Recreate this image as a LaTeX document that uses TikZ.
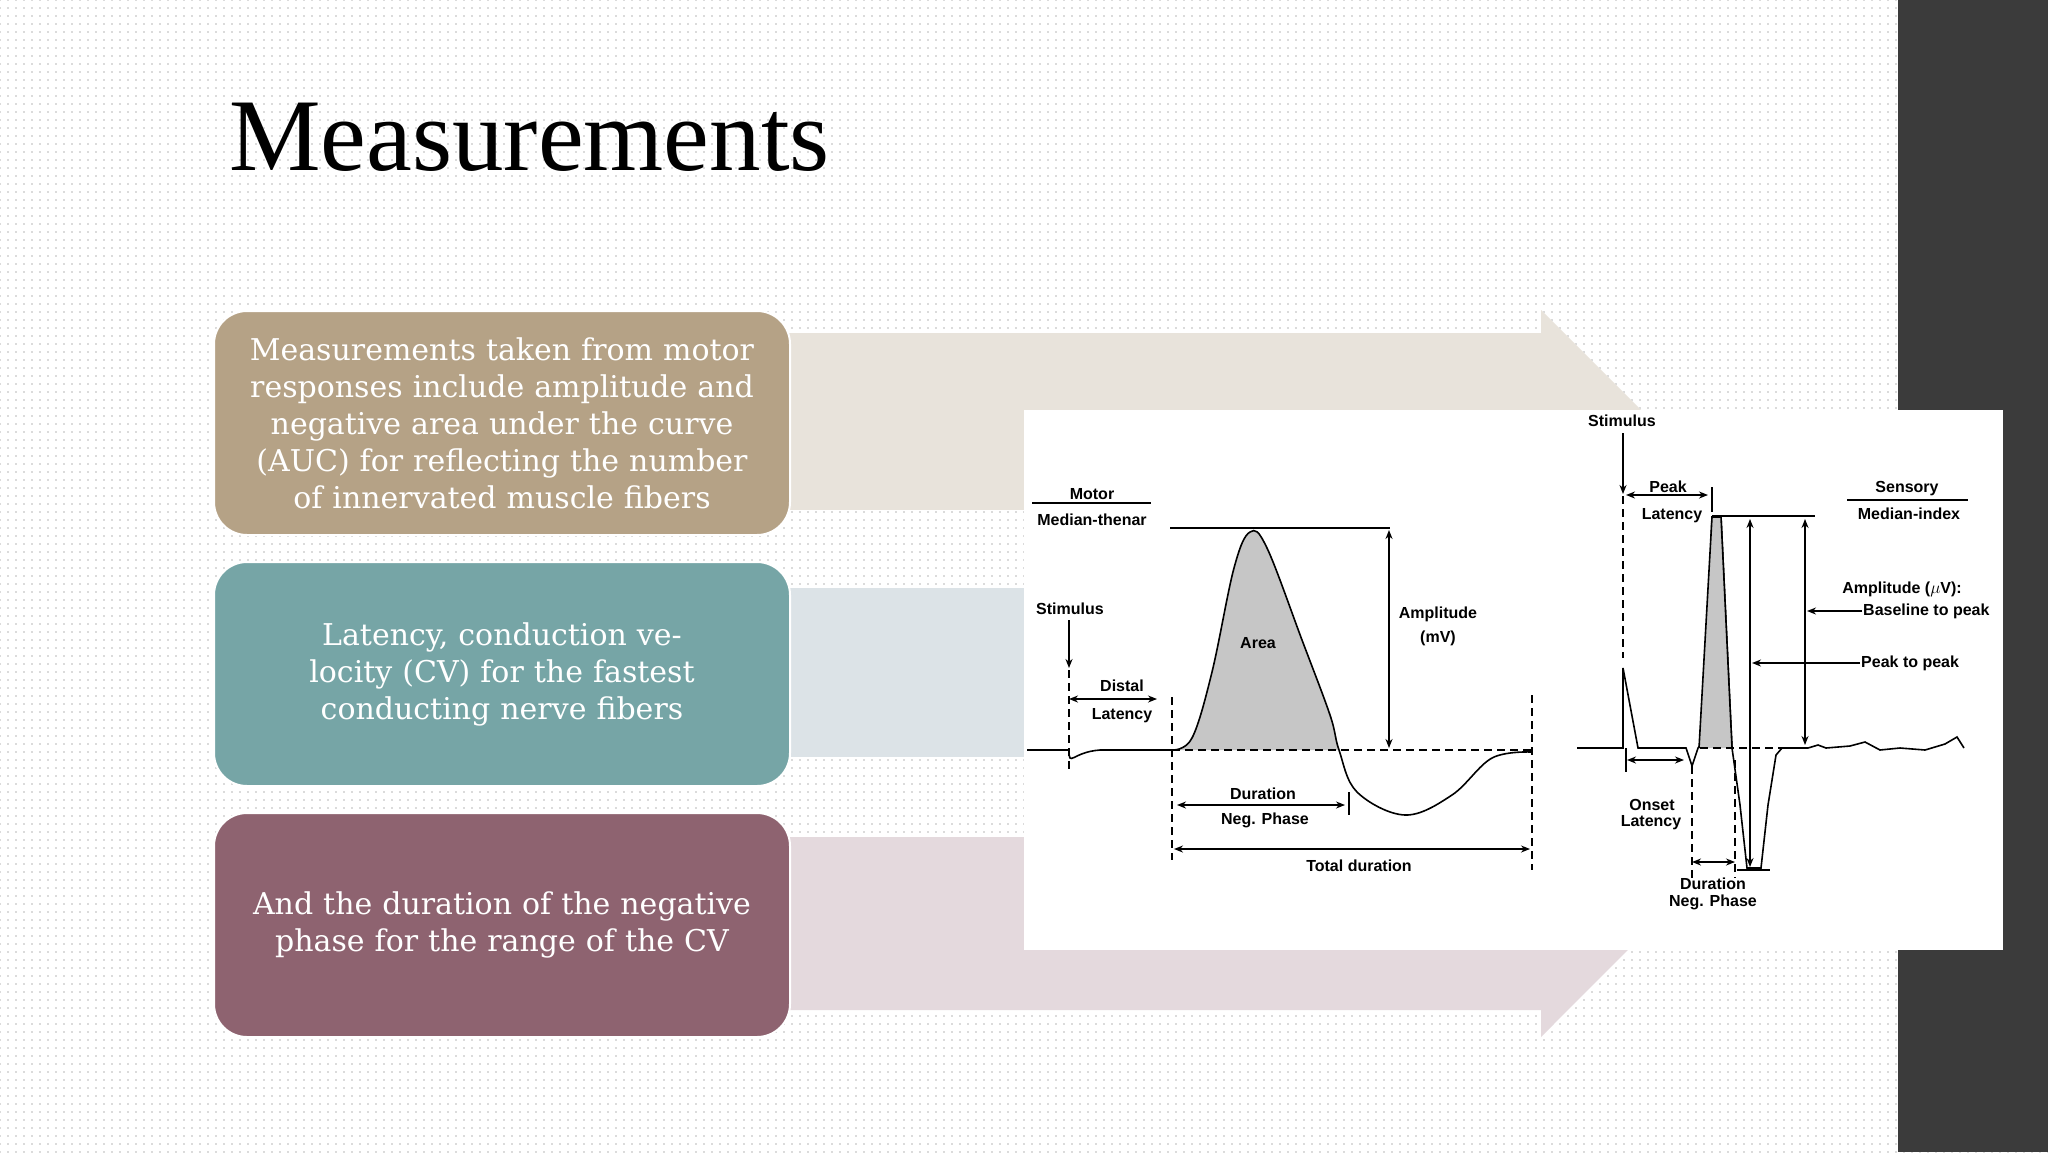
\documentclass[tikz,border=0pt]{standalone}
\usepackage{fontspec}
\setmainfont{DejaVu Serif}
\newfontfamily\titlefont{Liberation Serif}
\newfontfamily\plotfont{Liberation Sans}
\usetikzlibrary{patterns.meta,arrows.meta}
\definecolor{tanb}{HTML}{B5A286}
\definecolor{tealb}{HTML}{76A5A6}
\definecolor{mauveb}{HTML}{8E6370}
\definecolor{band1}{HTML}{E8E3DB}
\definecolor{band2}{HTML}{DCE3E7}
\definecolor{band3}{HTML}{E4D9DD}
\definecolor{darkband}{HTML}{3B3B3B}
\tikzset{
 box/.style={rounded corners=33pt, draw=white, line width=2pt, minimum width=576pt, minimum height=224pt, text width=530pt, align=center, text=white, font=\fontsize{30}{37}\selectfont, anchor=north west},
 lab/.style={font=\plotfont\bfseries\fontsize{16}{19}\selectfont, inner sep=1pt},
 ln/.style={line width=1.6pt},
 dsh/.style={line width=1.6pt, dash pattern=on 8pt off 5pt},
 arr/.style={line width=1.6pt, -{Stealth[length=9pt,width=7pt]}},
 darr/.style={line width=1.6pt, {Stealth[length=9pt,width=7pt]}-{Stealth[length=9pt,width=7pt]}},
}
\begin{document}
\begin{tikzpicture}[x=1pt,y=-1pt]
\useasboundingbox (0,0) rectangle (2048,1152);
\fill[white] (0,0) rectangle (2048,1152);
\fill[pattern={Dots[distance=8pt,radius=0.9pt]}, pattern color=black!28] (0,0) rectangle (2048,1152);
\fill[darkband] (1898,0) rectangle (2048,1152);
% title
\node[anchor=base west, inner sep=0, font=\titlefont\fontsize{103}{110}\selectfont] (title) at (229,170) {Measurements};
% arrow bands
\begin{scope}
\clip (0,0) rectangle (2048,509);
\fill[band1] (789,333) -- (1541,333) -- (1541,310) -- (1904,673) -- (1541,1037) -- (1541,1010) -- (789,1010) -- cycle;
\end{scope}
\fill[band2] (789,588) rectangle (1541,757);
\begin{scope}
\clip (0,837) rectangle (2048,1152);
\fill[band3] (789,333) -- (1541,333) -- (1541,310) -- (1904,673) -- (1541,1037) -- (1541,1010) -- (789,1010) -- cycle;
\end{scope}
% boxes
\node[box, fill=tanb] (b1) at (213,310) {Measurements taken from motor responses include amplitude and negative area under the curve (AUC) for reflecting the number of innervated muscle fibers};
\node[box, fill=tealb] (b2) at (213,561) {Latency, conduction velocity (CV) for the fastest conducting nerve fibers};
\node[box, fill=mauveb] (b3) at (213,812) {And the duration of the negative phase for the range of the CV};
% image
\fill[white] (1024,410) rectangle (2003,950);
% ---- motor
\node[lab] (motor) at (1092,494) {Motor};
\draw[ln] (1032,503) -- (1151,503);
\node[lab] (mthen) at (1092,520) {Median-thenar};
\node[lab] (stim1) at (1070,609) {Stimulus};
\coordinate (s1top) at (1069,620);
\coordinate (s1bot) at (1069,668);
\draw[arr] (s1top) -- (s1bot);
\draw[dsh] (1069,670) -- (1069,770);
\draw[ln] (1027,750) -- (1062,750) -- (1069,750) .. controls (1069,768) and (1072,752) .. (1100,750) -- (1172,750);
\draw[darr] (1069,699) -- (1157,699);
\node[lab] (dist) at (1122,686) {Distal};
\node[lab] (lat1) at (1122,716) {Latency};
\draw[dsh] (1172,697) -- (1172,860);
\fill[gray!45] plot[smooth,tension=0.6] coordinates {(1172,750)(1192,738)(1212,672)(1234,568)(1250,532)(1267,548)(1302,640)(1330,715)(1339,750)} -- cycle;
\draw[ln] plot[smooth,tension=0.6] coordinates {(1172,750)(1192,738)(1212,672)(1234,568)(1250,532)(1267,548)(1302,640)(1330,715)(1339,750)(1357,792)(1405,815)(1452,795)(1492,758)(1532,752)};
\draw[dsh] (1172,750) -- (1532,750);
\draw[ln] (1170,528) -- (1390,528);
\draw[darr] (1389,530) -- (1389,748);
\node[lab] (amp) at (1438,614) {Amplitude};
\node[lab] (mv) at (1438,638) {(mV)};
\node[lab] (area) at (1258,643) {Area};
\draw[dsh] (1532,695) -- (1532,870);
\draw[darr] (1177,805) -- (1345,805);
\draw[ln] (1349,792) -- (1349,815);
\node[lab] (dur1) at (1263,794) {Duration};
\node[lab] (neg1) at (1265,820) {Neg. Phase};
\draw[darr] (1174,849) -- (1530,849);
\node[lab] (tot) at (1359,866) {Total duration};
% ---- sensory
\node[lab] (stim2) at (1622,421) {Stimulus};
\draw[arr] (1623,433) -- (1623,494);
\draw[dsh] (1623,496) -- (1623,658);
\draw[ln] (1577,748) -- (1623,748) -- (1623,668) -- (1638,748) -- (1686,748) -- (1692,766) -- (1698,748) -- (1704,740) -- (1712,517) -- (1721,517) -- (1732,748) -- (1740,805) -- (1747,868) -- (1761,868) -- (1768,805) -- (1776,755) -- (1782,748) -- (1800,748) -- (1808,748) -- (1818,745) -- (1826,748) -- (1850,746) -- (1865,742) -- (1880,750) -- (1900,748) -- (1925,750) -- (1945,744) -- (1957,737) -- (1964,748);
\fill[gray!45] (1699,748) -- (1712,517) -- (1721,517) -- (1732,748) -- cycle;
\draw[ln] (1699,748) -- (1712,517) -- (1721,517) -- (1732,748);
\draw[dsh] (1700,748) -- (1805,748);
\draw[darr] (1626,495) -- (1708,495);
\draw[ln] (1712,487) -- (1712,512);
\node[lab] (peak) at (1668,487) {Peak};
\node[lab] (lat2) at (1672,516) {Latency};
\draw[ln] (1712,516) -- (1815,516);
\draw[darr] (1750,519) -- (1750,867);
\draw[ln] (1737,870) -- (1770,870);
\draw[darr] (1805,519) -- (1805,745);
\node[lab] (sens) at (1907,489) {Sensory};
\draw[ln] (1847,500) -- (1968,500);
\node[lab] (mind) at (1909,514) {Median-index};
\node[lab] (ampu) at (1902,589) {Amplitude ($\mu$V):};
\coordinate (blp) at (1862,611);
\draw[arr] (blp) -- (1807,611);
\node[lab, anchor=west] (btp) at (blp) {Baseline to peak};
\coordinate (ptp) at (1860,663);
\draw[arr] (ptp) -- (1752,663);
\node[lab, anchor=west] (ptpl) at (ptp) {Peak to peak};
\draw[darr] (1627,760) -- (1684,760);
\draw[ln] (1626,748) -- (1626,772);
\node[lab] (onset) at (1652,805) {Onset};
\node[lab] (lat3) at (1651,823) {Latency};
\draw[dsh] (1692,766) -- (1692,878);
\draw[dsh] (1735,760) -- (1735,878);
\draw[darr] (1692,862) -- (1735,862);
\node[lab] (dur2) at (1713,884) {Duration};
\node[lab] (neg2) at (1713,902) {Neg. Phase};
\end{tikzpicture}
\end{document}
